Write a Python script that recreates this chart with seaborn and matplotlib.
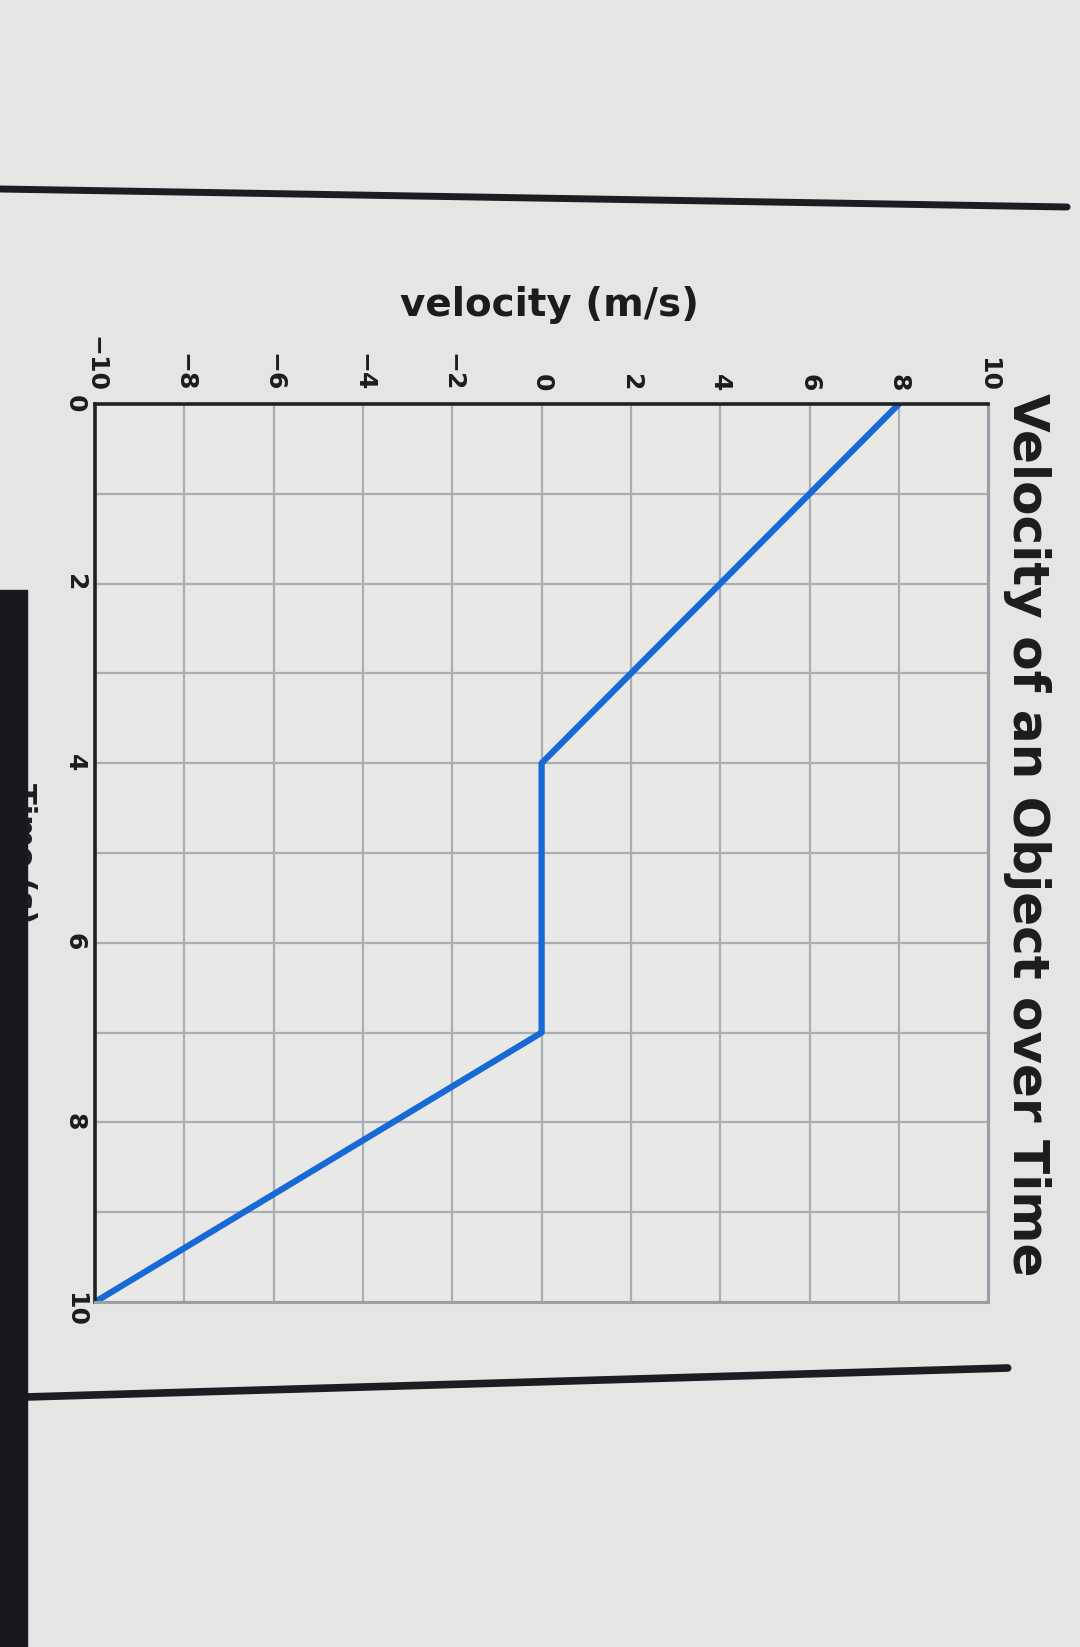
import numpy as np
import pandas as pd
import seaborn as sns
import matplotlib.pyplot as plt
from matplotlib.lines import Line2D
from matplotlib.patches import Rectangle


time_s = [0, 4, 7, 10]
velocity_ms = [8, 0, 0, -10]
velocity_ticks = [-10, -8, -6, -4, -2, 0, 2, 4, 6, 8, 10]
time_ticks = [0, 2, 4, 6, 8, 10]

df = pd.DataFrame({"time": time_s, "velocity": velocity_ms})

sns.set_theme(style="whitegrid")
plt.rcParams["font.family"] = ["DejaVu Sans"]

bg = "#e5e5e3"
fig = plt.figure(figsize=(10.8, 16.47), dpi=100, facecolor=bg)
ax = fig.add_axes([0.088, 0.2095, 0.827, 0.5452])
ax.set_facecolor("#e8e8e6")

# the photographed chart is turned a quarter turn clockwise:
# velocity runs left -> right, time runs top -> bottom
sns.lineplot(data=df, x="velocity", y="time", sort=False, estimator=None,
             orient="y", color="#1769d6", linewidth=4.5, ax=ax)

ax.set_xlim(-10, 10)
ax.set_ylim(10, 0)
ax.set_xticks(velocity_ticks)
ax.set_xticklabels(["\u2212%d" % -v if v < 0 else "%d" % v for v in velocity_ticks])
ax.set_yticks(time_ticks)
ax.set_yticks(np.arange(1, 10, 2), minor=True)
ax.xaxis.tick_top()

ax.tick_params(axis="x", which="both", length=0, pad=9, labelsize=18,
               labelrotation=270, colors="#1c1c1c")
ax.tick_params(axis="y", which="both", length=0, pad=6, labelsize=18,
               labelrotation=270, colors="#1c1c1c")
for lab in ax.get_xticklabels() + ax.get_yticklabels():
    lab.set_fontweight("bold")

ax.grid(True, which="both", color="#a9adb5", linewidth=1.6)
ax.set_axisbelow(True)

for side in ["top", "left"]:
    ax.spines[side].set_color("#1e2226")
    ax.spines[side].set_linewidth(2.6)
for side in ["right", "bottom"]:
    ax.spines[side].set_color("#9a9ea6")
    ax.spines[side].set_linewidth(2.2)

ax.set_xlabel("")
ax.set_ylabel("Time (s)", fontsize=22, fontweight="bold", rotation=270,
              color="#1c1c1c")
ax.yaxis.set_label_coords(-0.098, 0.5)

fig.text(0.509, 0.8148, "velocity (m/s)", fontsize=28, fontweight="bold",
         ha="center", va="center", color="#1c1c1c")
fig.text(0.951, 0.493, "Velocity of an Object over Time", fontsize=36,
         fontweight="bold", rotation=270, ha="center", va="center",
         color="#1c1c1c")

# screen edges seen in the photo
fig.add_artist(Line2D([0.0, 0.988], [1 - 189 / 1647, 1 - 207 / 1647],
                      transform=fig.transFigure, color="#1b1d22", linewidth=5))
fig.add_artist(Line2D([0.024, 0.933], [1 - 1397 / 1647, 1 - 1368 / 1647],
                      transform=fig.transFigure, color="#1b1d22", linewidth=5.5))
fig.add_artist(Rectangle((0, 0), 0.025, 1 - 590 / 1647, transform=fig.transFigure,
                         color="#17191d", zorder=10))

plt.savefig("out.png", dpi=100, facecolor=bg)
